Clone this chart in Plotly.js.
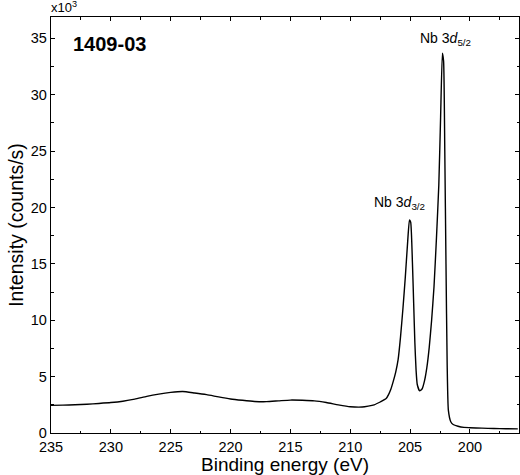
<!DOCTYPE html>
<html>
<head>
<meta charset="utf-8">
<script src="https://cdn.plot.ly/plotly-3.0.1.min.js"></script>
<style>html,body{margin:0;padding:0;background:#fff;}#chart{width:520px;height:475px;}</style>
</head>
<body>
<div id="chart"></div>
<script>
// Binding energy (eV)
var energy = [235.0,234.0,233.0,232.0,231.0,230.0,229.0,228.0,227.0,226.0,225.0,224.0,223.0,222.0,221.0,220.0,219.0,218.0,217.0,216.0,215.0,214.0,213.0,212.0,211.0,210.0,209.0,208.5,208.0,207.5,207.0,206.8,206.6,206.4,206.2,206.0,205.8,205.6,205.4,205.2,205.05,204.95,204.8,204.7,204.6,204.5,204.4,204.2,204.0,203.8,203.6,203.4,203.2,203.0,202.8,202.6,202.45,202.3,202.2,202.1,202.0,201.9,201.8,201.6,201.4,201.0,200.5,200.0,199.0,198.0,197.0,196.0];
// Intensity (x10^3 counts/s)
var intensity = [2.45,2.47,2.50,2.55,2.62,2.70,2.82,3.00,3.25,3.45,3.60,3.68,3.55,3.40,3.20,3.02,2.90,2.80,2.78,2.85,2.92,2.90,2.85,2.70,2.50,2.33,2.30,2.38,2.50,2.75,3.05,3.40,3.90,4.60,5.40,6.50,8.50,11.0,13.8,17.0,18.9,18.7,15.0,11.5,8.0,5.6,4.3,3.75,3.90,4.60,5.80,7.60,10.0,13.0,17.2,22.0,28.0,33.7,33.0,25.0,15.0,6.0,2.0,1.0,0.75,0.60,0.50,0.47,0.43,0.40,0.38,0.37];
var xTicks = [235,230,225,220,215,210,205,200];
var yTicks = [0,5,10,15,20,25,30,35];
var sampleLabel = "1409-03";
var peakLabels = ["Nb 3<i>d</i><sub>5/2</sub>", "Nb 3<i>d</i><sub>3/2</sub>"];
var peakPos = [[202.3, 33.7], [205.05, 18.9]];

var FONT = "Liberation Sans, Arial, sans-serif";
var axisCommon = {
  showline: true, linecolor: "#000", linewidth: 1.2, mirror: "ticks",
  ticks: "inside", ticklen: 4, tickwidth: 1, tickcolor: "#000",
  showgrid: false, zeroline: false,
  tickfont: {family: FONT, size: 14.5, color: "#000"}
};

var layout = {
  width: 520, height: 475,
  margin: {l: 51, r: 1, t: 17, b: 42},
  paper_bgcolor: "#fff", plot_bgcolor: "#fff",
  showlegend: false,
  font: {family: FONT, color: "#000"},
  xaxis: Object.assign({}, axisCommon, {
    range: [235, 195.9], tickvals: xTicks, ticktext: xTicks.map(String),
    ticklabelstandoff: 0,
    minor: {ticks: "inside", ticklen: 2.5, tickcolor: "#000", dtick: 2.5, tick0: 0},
    title: {text: "Binding energy (eV)", font: {family: FONT, size: 19, color: "#000"}, standoff: 2}
  }),
  yaxis: Object.assign({}, axisCommon, {
    range: [0, 36.9], tickvals: yTicks, ticktext: yTicks.map(String),
    minor: {ticks: "inside", ticklen: 2.5, tickcolor: "#000", dtick: 2.5, tick0: 0},
    title: {text: "Intensity (counts/s)", font: {family: FONT, size: 19.5, color: "#000"}, standoff: 2}
  }),
  annotations: [
    {xref: "paper", yref: "paper", x: -0.005, y: 1.0, xanchor: "left", yanchor: "bottom",
     text: "x10<sup>3</sup>", showarrow: false, font: {family: FONT, size: 13, color: "#000"}},
    {xref: "paper", yref: "paper", x: 0.043, y: 0.935, xanchor: "left", yanchor: "middle",
     text: "<b>" + sampleLabel + "</b>", showarrow: false, font: {family: FONT, size: 20, color: "#000"}},
    {xref: "x", yref: "y", x: peakPos[0][0], y: peakPos[0][1], xanchor: "center", yanchor: "bottom", yshift: 3, xshift: 3,
     text: peakLabels[0], showarrow: false, font: {family: FONT, size: 14, color: "#000"}},
    {xref: "x", yref: "y", x: peakPos[1][0], y: peakPos[1][1], xanchor: "center", yanchor: "bottom", yshift: 6, xshift: -10,
     text: peakLabels[1], showarrow: false, font: {family: FONT, size: 14, color: "#000"}}
  ]
};

Plotly.newPlot("chart", [{
  x: energy, y: intensity, type: "scatter", mode: "lines",
  line: {color: "#000", width: 1.4, shape: "spline", smoothing: 0.5}
}], layout, {staticPlot: true, displayModeBar: false});
</script>
</body>
</html>
